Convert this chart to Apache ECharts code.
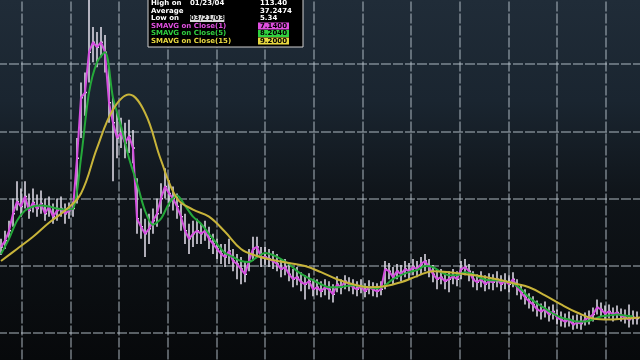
<!DOCTYPE html>
<html><head><meta charset="utf-8">
<script src="https://cdn.jsdelivr.net/npm/echarts@6/dist/echarts.min.js"></script>
<style>html,body{margin:0;padding:0;background:#000}#c{width:640px;height:360px}</style>
</head><body><div id="c"></div>
<script>
// Daily bars (one sample per bar), values in price units
const closeVals = [45.6,47.4,50.4,55.5,59.1,57.6,60.6,56.4,58.8,57.0,58.5,55.5,57.6,54.6,56.4,57.0,55.5,56.4,57.0,72.0,
90.0,91.5,103.5,106.5,105.0,106.5,103.5,88.5,82.5,78.0,79.5,76.5,78.6,75.0,54.0,51.6,49.5,51.0,53.4,55.5,
60.0,63.6,61.5,60.0,57.6,54.6,50.4,48.0,49.5,50.4,49.5,50.4,48.0,46.5,45.0,43.5,42.6,44.4,41.4,40.5,
39.0,37.5,41.4,45.0,45.6,42.6,42.6,42.0,41.4,40.5,39.0,39.6,37.5,36.0,36.6,35.1,34.5,35.4,33.0,33.6,
32.4,33.6,33.0,31.5,34.5,33.6,35.4,34.5,33.6,33.0,33.9,32.4,33.6,33.0,32.4,33.0,39.0,38.4,36.6,38.4,
37.5,39.0,38.4,39.6,39.0,40.5,41.4,39.6,37.5,36.0,36.6,35.4,36.0,36.9,36.0,39.0,39.6,38.4,36.0,35.1,
36.0,34.5,35.4,35.1,36.0,34.5,35.4,34.5,36.0,33.6,32.1,30.6,29.4,28.5,27.0,26.4,27.0,25.5,26.4,24.6,
24.0,23.4,24.0,22.5,23.1,22.8,24.0,24.6,25.5,27.6,27.0,25.8,26.4,25.5,26.1,25.2,24.6,24.0,24.6,24.3];
const highVals = [48.0,50.4,53.4,60.0,65.1,63.0,65.1,61.5,63.0,61.2,62.4,60.0,60.6,58.5,60.0,60.6,58.5,58.8,59.1,78.0,
94.5,97.5,120.0,111.0,109.5,111.0,108.6,99.0,90.0,85.5,84.0,82.5,83.4,80.4,66.0,57.0,54.0,55.5,57.0,60.0,
64.5,69.0,65.4,63.6,61.5,58.5,55.5,52.5,53.4,54.0,52.5,53.4,51.6,49.5,48.0,46.5,46.5,48.0,45.0,43.5,
42.6,41.4,45.0,48.6,48.6,45.6,45.6,45.0,44.4,43.5,42.0,42.0,40.5,39.0,39.6,38.1,37.2,37.8,36.0,36.0,
35.4,36.0,35.4,34.5,36.9,36.0,37.2,36.6,36.0,35.4,36.0,34.8,35.7,35.1,34.8,35.4,41.4,40.8,39.6,40.5,
40.2,41.4,40.8,42.0,41.4,42.6,43.5,42.0,40.2,39.0,39.0,38.1,38.4,39.0,38.4,41.4,42.0,40.5,38.4,37.5,
38.4,37.2,37.8,37.5,38.4,37.2,37.8,37.2,38.1,36.0,34.5,33.0,31.8,30.9,29.7,28.8,29.4,27.9,28.5,27.0,
26.4,25.8,26.4,25.2,25.5,25.2,26.1,26.7,27.6,30.0,29.1,28.2,28.5,27.6,28.2,27.3,27.0,28.5,26.7,26.4];
const lowVals = [43.2,45.0,48.0,51.6,56.4,54.6,57.0,54.0,55.8,54.6,55.5,53.4,54.6,52.5,53.4,54.6,52.5,54.0,54.6,58.5,
78.0,84.6,94.5,100.5,99.0,102.0,97.5,82.5,65.1,72.0,75.0,72.0,73.5,70.5,49.5,48.0,42.6,46.5,49.5,51.6,
55.5,60.0,57.6,56.4,54.0,50.4,46.5,43.5,45.6,46.5,46.5,47.4,45.0,43.5,42.0,40.5,39.6,40.5,38.4,36.0,
34.5,35.1,38.4,41.4,42.6,39.6,40.2,39.6,39.0,38.4,36.6,37.2,35.4,33.6,34.2,32.4,30.0,33.0,30.9,31.2,
30.6,31.2,30.0,29.1,32.1,31.5,33.0,32.4,31.5,30.9,31.8,30.6,31.5,30.9,30.6,31.2,33.0,36.0,34.5,36.0,
35.4,36.6,36.0,37.2,36.6,37.5,38.4,36.6,35.1,33.0,34.5,33.0,32.1,34.5,33.9,36.0,37.2,35.4,33.6,32.7,
33.6,32.4,33.0,32.7,33.6,32.4,33.0,32.1,33.6,31.2,30.0,28.5,27.3,26.4,24.9,24.0,24.6,23.4,24.0,22.5,
21.9,21.6,21.9,21.0,21.3,21.0,22.2,22.5,23.4,25.5,24.9,24.0,24.3,23.4,24.0,23.4,22.8,21.6,22.5,22.5];
// Moving averages (green every 2 bars, yellow every 4 bars)
const sma5Vals = [43.5,48.0,53.4,56.4,57.6,57.9,57.6,57.0,56.7,57.0,72.0,91.5,100.5,103.5,90.0,81.6,72.0,64.5,56.4,52.2,
54.0,58.5,60.9,57.9,54.6,52.5,49.5,46.5,43.8,42.6,41.4,41.1,42.6,43.8,43.2,42.0,40.5,38.4,36.9,35.7,
34.5,33.6,33.6,33.9,34.2,33.9,33.6,33.3,34.2,36.0,37.2,38.1,38.7,39.9,39.6,38.1,37.2,37.2,38.1,37.5,
36.3,35.7,35.7,35.4,34.8,33.0,30.6,28.8,27.3,25.8,24.6,24.0,23.4,23.4,24.0,24.9,25.2,25.5,25.2,24.9];
const sma15Vals = [41.4,45.0,48.6,52.8,56.4,61.5,75.0,86.4,90.9,85.5,71.4,60.0,56.7,54.6,50.1,45.0,42.9,41.7,40.8,39.9,
38.1,36.0,34.5,33.6,33.9,35.1,36.9,38.4,38.1,37.5,36.9,36.0,34.8,33.6,31.2,28.5,26.1,24.3,24.0,24.3,24.6];
const FIRST_DAY = 7;
const legendRows = [
  ["High on", "01/23/04", "113.40"],
  ["Average", "", "37.2474"],
  ["Low on", "03/21/03", "5.34"],
  ["SMAVG on Close(1)", "", "7.1400"],
  ["SMAVG on Close(5)", "", "8.2040"],
  ["SMAVG on Close(15)", "", "9.2000"]
];

const bars = closeVals.map((c, i) => [FIRST_DAY + i, highVals[i], lowVals[i], c]);
const closeLine = closeVals.map((c, i) => [FIRST_DAY + i, c]);
const g5 = sma5Vals.map((v, i) => [FIRST_DAY + 2 * i, v]);
const y15 = sma15Vals.map((v, i) => [FIRST_DAY + 4 * i, v]);

const chart = echarts.init(document.getElementById('c'), null, {renderer: 'canvas'});
const gridColor = 'rgba(190,200,210,0.6)';
const rowY = [3.5, 11, 18.5, 26, 33.5, 41];
const rowColors = ['#ffffff', '#ffffff', '#ffffff', '#e050e0', '#30d040', '#e8d840'];
const graphics = [{
  type: 'rect', shape: {x: 148, y: -3, width: 155, height: 50},
  style: {fill: '#000000', stroke: '#cfcfcf', lineWidth: 1}, z: 100
}];
legendRows.forEach((r, k) => {
  const font = 'bold 7px "DejaVu Sans"';
  const col = rowColors[k];
  graphics.push({type: 'text', x: 151, y: rowY[k], z: 101,
    style: {text: r[0], fill: col, font: font, textVerticalAlign: 'middle'}});
  if (r[1]) graphics.push({type: 'text', x: 190, y: rowY[k], z: 101,
    style: {text: r[1], fill: k === 2 ? '#000' : '#fff', font: font, textVerticalAlign: 'middle',
      backgroundColor: k === 2 ? '#d8d8d8' : 'transparent'}});
  graphics.push({type: 'text', x: 258, y: rowY[k], z: 101,
    style: {text: r[2], fill: k >= 3 ? '#000' : '#fff', font: font, textVerticalAlign: 'middle',
      backgroundColor: k >= 3 ? col : 'transparent', padding: [0, 2]}});
});

chart.setOption({
  animation: false,
  backgroundColor: {type: 'linear', x: 0, y: 0, x2: 0, y2: 1, colorStops: [
    {offset: 0, color: '#202c38'}, {offset: 0.28, color: '#1a2530'},
    {offset: 0.55, color: '#0f1419'}, {offset: 1, color: '#07090b'}]},
  grid: {left: -27, right: -13, top: -70.5, bottom: -40.25, containLabel: false,
    outerBoundsMode: 'none'},
  xAxis: {type: 'value', min: 0, max: 170, interval: 73 / 6,
    axisLine: {show: false}, axisTick: {show: false}, axisLabel: {show: false},
    splitLine: {show: true, lineStyle: {color: gridColor, width: 1.5, type: [10, 2]}}},
  yAxis: {type: 'value', min: 0, max: 140, interval: 20,
    axisLine: {show: false}, axisTick: {show: false}, axisLabel: {show: false},
    splitLine: {show: true, lineStyle: {color: gridColor, width: 1.5, type: [10, 2]}}},
  graphic: graphics,
  series: [
    {type: 'custom', data: bars, encode: {x: 0, y: [1, 2]}, z: 2,
      renderItem: function (params, api) {
        const x = api.value(0);
        const pH = api.coord([x, api.value(1)]);
        const pL = api.coord([x, api.value(2)]);
        const pC = api.coord([x, api.value(3)]);
        const st = {stroke: '#e6e2ee', lineWidth: 1.5};
        return {type: 'group', children: [
          {type: 'line', shape: {x1: pH[0], y1: pH[1], x2: pL[0], y2: pL[1]}, style: st},
          {type: 'line', shape: {x1: pC[0], y1: pC[1], x2: pC[0] + 2, y2: pC[1]}, style: st}
        ]};
      }},
    {type: 'line', data: closeLine, showSymbol: false, z: 3,
      lineStyle: {color: '#d64ee0', width: 2}},
    {type: 'line', data: g5, showSymbol: false, smooth: 0.3, z: 4,
      lineStyle: {color: '#25a83a', width: 2}},
    {type: 'line', data: y15, showSymbol: false, smooth: 0.4, z: 5,
      lineStyle: {color: '#c8b43a', width: 2}}
  ]
});
</script></body></html>
